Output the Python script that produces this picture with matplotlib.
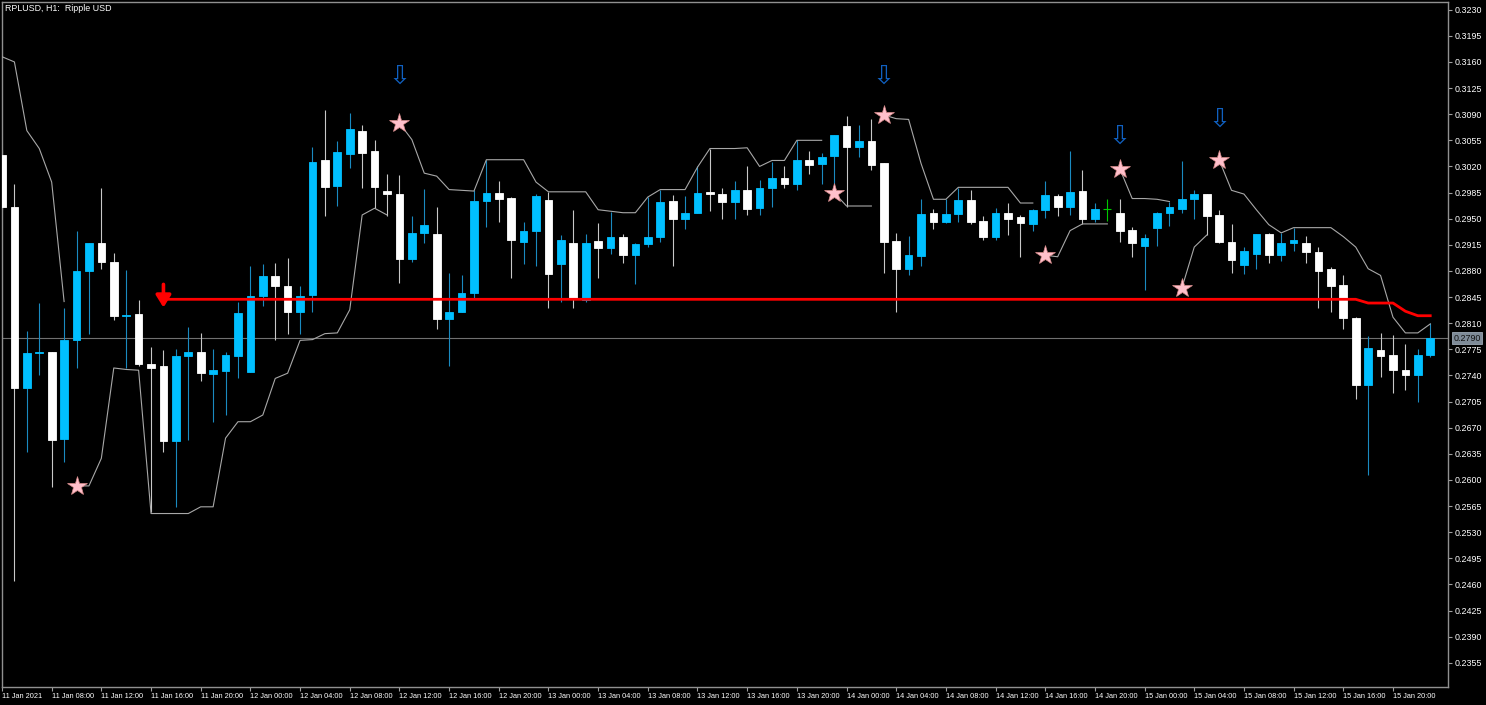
import matplotlib
matplotlib.use('Agg')
import matplotlib.pyplot as plt
from matplotlib.patches import Rectangle

# H1 bars, first bar = 11 Jan 2021 04:00
opens = [0.3035, 0.2965, 0.2723, 0.2770, 0.2772, 0.2655, 0.2787, 0.2880, 0.2918, 0.2892,
         0.2819, 0.2822, 0.2755, 0.2752, 0.2652, 0.2766, 0.2771, 0.2742, 0.2746, 0.2766,
         0.2744, 0.2846, 0.2873, 0.2860, 0.2825, 0.2848, 0.3028, 0.2994, 0.3037, 0.3067,
         0.3041, 0.2987, 0.2983, 0.2896, 0.2931, 0.2930, 0.2816, 0.2825, 0.2850, 0.2974,
         0.2984, 0.2978, 0.2919, 0.2933, 0.2975, 0.2889, 0.2918, 0.2841, 0.2920, 0.2911,
         0.2926, 0.2902, 0.2916, 0.2925, 0.2974, 0.2950, 0.2958, 0.2986, 0.2983, 0.2973,
         0.2989, 0.2964, 0.2991, 0.3005, 0.2997, 0.3028, 0.3023, 0.3034, 0.3074, 0.3046,
         0.3054, 0.3024, 0.2920, 0.2883, 0.2900, 0.2957, 0.2946, 0.2956, 0.2975, 0.2947,
         0.2926, 0.2957, 0.2952, 0.2943, 0.2962, 0.2981, 0.2966, 0.2987, 0.2950, 0.2963,
         0.2958, 0.2935, 0.2914, 0.2937, 0.2958, 0.2963, 0.2976, 0.2983, 0.2955, 0.2919,
         0.2888, 0.2903, 0.2929, 0.2901, 0.2917, 0.2918, 0.2905, 0.2882, 0.2861, 0.2817,
         0.2727, 0.2774, 0.2767, 0.2747, 0.2740, 0.2767]
highs = [0.3042, 0.2997, 0.2800, 0.2837, 0.2772, 0.2830, 0.2934, 0.2918, 0.2991, 0.2904,
         0.2881, 0.2841, 0.2778, 0.2774, 0.2776, 0.2805, 0.2797, 0.2776, 0.2772, 0.2839,
         0.2887, 0.2889, 0.2890, 0.2898, 0.2860, 0.3046, 0.3096, 0.3054, 0.3091, 0.3076,
         0.3056, 0.3010, 0.3008, 0.2953, 0.2990, 0.2965, 0.2877, 0.2875, 0.2988, 0.3029,
         0.3001, 0.2979, 0.2945, 0.2983, 0.2986, 0.2928, 0.2962, 0.2929, 0.2944, 0.2959,
         0.2930, 0.2917, 0.2979, 0.2989, 0.2982, 0.2980, 0.3020, 0.3044, 0.2991, 0.3001,
         0.3021, 0.3002, 0.3026, 0.3020, 0.3055, 0.3041, 0.3038, 0.3062, 0.3088, 0.3076,
         0.3084, 0.3024, 0.2931, 0.2927, 0.2976, 0.2963, 0.2976, 0.2991, 0.2988, 0.2953,
         0.2964, 0.2971, 0.2955, 0.2963, 0.3001, 0.2983, 0.3041, 0.3015, 0.2971, 0.2976,
         0.2977, 0.2939, 0.2930, 0.2959, 0.2973, 0.3027, 0.2988, 0.2983, 0.2962, 0.2943,
         0.2912, 0.2930, 0.2931, 0.2931, 0.2938, 0.2927, 0.2912, 0.2885, 0.2875, 0.2818,
         0.2793, 0.2797, 0.2794, 0.2782, 0.2776, 0.2810]
lows = [0.2962, 0.2464, 0.2638, 0.2741, 0.2591, 0.2624, 0.2750, 0.2795, 0.2883, 0.2814,
        0.2750, 0.2752, 0.2557, 0.2638, 0.2564, 0.2653, 0.2733, 0.2678, 0.2687, 0.2736,
        0.2744, 0.2833, 0.2787, 0.2796, 0.2796, 0.2825, 0.2954, 0.2967, 0.3018, 0.2991,
        0.2964, 0.2954, 0.2864, 0.2892, 0.2917, 0.2802, 0.2753, 0.2825, 0.2842, 0.2939,
        0.2946, 0.2870, 0.2889, 0.2886, 0.2831, 0.2839, 0.2830, 0.2839, 0.2870, 0.2903,
        0.2891, 0.2863, 0.2912, 0.2919, 0.2886, 0.2936, 0.2958, 0.2960, 0.2949, 0.2949,
        0.2955, 0.2955, 0.2965, 0.2991, 0.2989, 0.3010, 0.2996, 0.2986, 0.2966, 0.3033,
        0.3015, 0.2877, 0.2825, 0.2875, 0.2887, 0.2936, 0.2944, 0.2945, 0.2943, 0.2922,
        0.2922, 0.2928, 0.2899, 0.2934, 0.2951, 0.2953, 0.2955, 0.2943, 0.2946, 0.2947,
        0.2919, 0.2899, 0.2855, 0.2913, 0.2940, 0.2957, 0.2950, 0.2928, 0.2917, 0.2877,
        0.2876, 0.2882, 0.2891, 0.2893, 0.2907, 0.2890, 0.2830, 0.2825, 0.2802, 0.2708,
        0.2607, 0.2738, 0.2717, 0.2721, 0.2705, 0.2765]
closes = [0.2965, 0.2723, 0.2770, 0.2772, 0.2653, 0.2787, 0.2880, 0.2918, 0.2892, 0.2819,
          0.2821, 0.2755, 0.2750, 0.2652, 0.2766, 0.2771, 0.2743, 0.2747, 0.2767, 0.2824,
          0.2846, 0.2873, 0.2860, 0.2825, 0.2846, 0.3026, 0.2993, 0.3039, 0.3070, 0.3038,
          0.2993, 0.2983, 0.2896, 0.2931, 0.2941, 0.2815, 0.2825, 0.2850, 0.2974, 0.2984,
          0.2977, 0.2922, 0.2933, 0.2980, 0.2876, 0.2921, 0.2842, 0.2918, 0.2911, 0.2925,
          0.2902, 0.2916, 0.2925, 0.2973, 0.2950, 0.2958, 0.2985, 0.2983, 0.2973, 0.2989,
          0.2963, 0.2991, 0.3005, 0.2997, 0.3028, 0.3022, 0.3033, 0.3062, 0.3046, 0.3054,
          0.3022, 0.2919, 0.2883, 0.2901, 0.2956, 0.2946, 0.2956, 0.2975, 0.2946, 0.2925,
          0.2957, 0.2950, 0.2944, 0.2962, 0.2982, 0.2965, 0.2986, 0.2950, 0.2963, 0.2963,
          0.2934, 0.2918, 0.2924, 0.2957, 0.2965, 0.2976, 0.2983, 0.2954, 0.2919, 0.2895,
          0.2907, 0.2929, 0.2901, 0.2917, 0.2921, 0.2906, 0.2880, 0.2860, 0.2817, 0.2727,
          0.2777, 0.2766, 0.2747, 0.2740, 0.2767, 0.2790]

# trailing stop line (grey), breaks at each flip bar
trail = [0.3167, 0.3160, 0.3068, 0.3044, 0.2999, 0.2839,
         0.2592, 0.2592, 0.2629, 0.2750, 0.2748, 0.2747, 0.2555, 0.2555, 0.2555, 0.2555,
         0.2564, 0.2564, 0.2656, 0.2678, 0.2678, 0.2687, 0.2736, 0.2743, 0.2787, 0.2788,
         0.2796, 0.2797, 0.2828, 0.2955, 0.2964, 0.2955,
         0.3078, 0.3056, 0.3011, 0.3007, 0.2989, 0.2988, 0.2987, 0.3029, 0.3029, 0.3029,
         0.3029, 0.2999, 0.2986, 0.2986, 0.2986, 0.2986, 0.2962, 0.2960, 0.2958, 0.2958,
         0.2979, 0.2989, 0.2989, 0.2989, 0.3019, 0.3044, 0.3044, 0.3044, 0.3045, 0.3020,
         0.3028, 0.3028, 0.3055, 0.3055, 0.3055,
         0.2985, 0.2967, 0.2967, 0.2967,
         0.3089, 0.3084, 0.3083, 0.3024, 0.2976, 0.2976, 0.2992, 0.2992, 0.2992, 0.2992,
         0.2992, 0.2971, 0.2971,
         0.2901, 0.2899, 0.2934, 0.2943, 0.2943, 0.2943,
         0.3017, 0.2977, 0.2977, 0.2976, 0.2973,
         0.2857, 0.2912, 0.2928,
         0.3029, 0.2988, 0.2983, 0.2962, 0.2942, 0.2931, 0.2938, 0.2938, 0.2938, 0.2938,
         0.2926, 0.2912, 0.2883, 0.2874, 0.2818, 0.2797, 0.2797, 0.2809]
flip_bars = [6, 32, 67, 71, 84, 90, 95, 98]

# blue down-arrow signals (bar, price)
signal_bars = [32, 71, 90, 98]
signal_prices = [0.3140, 0.3140, 0.3060, 0.3082]

# red level, starting at bar 13
level_start = 13
level = [0.2842] * 97 + [0.2837, 0.2837, 0.2837, 0.2826, 0.2820, 0.2820]
arrow_bar = 13
arrow_top, arrow_tip = 0.2862, 0.2831

bid = 0.2790
price_ticks = [0.2355, 0.2390, 0.2425, 0.2460, 0.2495, 0.2530, 0.2565, 0.2600, 0.2635,
               0.2670, 0.2705, 0.2740, 0.2775, 0.2810, 0.2845, 0.2880, 0.2915, 0.2950,
               0.2985, 0.3020, 0.3055, 0.3090, 0.3125, 0.3160, 0.3195, 0.3230]
time_bars = list(range(0, 113, 4))
time_labels = ['11 Jan 2021', '11 Jan 08:00', '11 Jan 12:00', '11 Jan 16:00', '11 Jan 20:00',
               '12 Jan 00:00', '12 Jan 04:00', '12 Jan 08:00', '12 Jan 12:00', '12 Jan 16:00',
               '12 Jan 20:00', '13 Jan 00:00', '13 Jan 04:00', '13 Jan 08:00', '13 Jan 12:00',
               '13 Jan 16:00', '13 Jan 20:00', '14 Jan 00:00', '14 Jan 04:00', '14 Jan 08:00',
               '14 Jan 12:00', '14 Jan 16:00', '14 Jan 20:00', '15 Jan 00:00', '15 Jan 04:00',
               '15 Jan 08:00', '15 Jan 12:00', '15 Jan 16:00', '15 Jan 20:00']

plt.rcParams['font.family'] = ['Liberation Sans', 'DejaVu Sans']

fig = plt.figure(figsize=(14.86, 7.05), dpi=100, facecolor='black')
ax = fig.add_axes([2 / 1486, 18 / 705, 1446 / 1486, 685 / 705])
ax.set_facecolor('black')
ax.set_xlim(0.0, 116.43)
ax.set_ylim(0.23226, 0.32403)

# bid line
ax.axhline(bid, color='#707070', lw=0.8, zorder=1)

# candles
for i in range(len(opens)):
    o, h, l, c = opens[i], highs[i], lows[i], closes[i]
    if o == c:
        ax.vlines(i, l, h, color='#00C800', lw=0.8, zorder=3)
        ax.hlines(c, i - 0.33, i + 0.33, color='#00C800', lw=0.8, zorder=3)
        continue
    bull = c > o
    wick = '#1A8AC0' if bull else '#C8C8C8'
    body = '#00BFFF' if bull else '#FFFFFF'
    ax.vlines(i, l, h, color=wick, lw=0.8, zorder=2)
    ax.add_patch(Rectangle((i - 0.31, min(o, c)), 0.62, abs(c - o),
                           facecolor=body, edgecolor=body, lw=0.6, zorder=3))

# trailing line segments
cuts = [0] + flip_bars + [len(trail)]
for a, b in zip(cuts[:-1], cuts[1:]):
    ax.plot(range(a, b), trail[a:b], color='#A8A8A8', lw=0.8, zorder=4)

# red level
ax.plot(range(level_start, level_start + len(level)), level, color='#FF0000', lw=2, zorder=5)
ax.annotate('', xy=(arrow_bar, arrow_tip), xytext=(arrow_bar, arrow_top),
            arrowprops=dict(arrowstyle='-|>,head_width=0.28,head_length=0.45', color='#FF0000',
                            lw=2.6, mutation_scale=16, shrinkA=0, shrinkB=0), zorder=6)

# stars at flips
ax.plot(flip_bars, [trail[k] for k in flip_bars], ls='none', marker='*', ms=15,
        mfc='#FFC0CB', mec='#D88A8A', mew=0.5, zorder=7)

# blue hollow arrows
for k, p in zip(signal_bars, signal_prices):
    ax.text(k, p, '\u21e9', ha='center', va='center', color='#1060C0',
            fontsize=19, family='DejaVu Sans', zorder=7)

# axes styling
for s in ax.spines.values():
    s.set_color('#909090')
    s.set_linewidth(1)

ax.yaxis.tick_right()
ax.set_yticks(price_ticks)
ax.set_yticklabels(['%.4f' % p for p in price_ticks])
ax.tick_params(axis='y', colors='#A0A0A0', labelcolor='white', length=3, width=0.8,
               labelsize=6.4, pad=2)
ax.set_xticks(time_bars)
ax.set_xticklabels(time_labels)
ax.tick_params(axis='x', colors='#A0A0A0', labelcolor='white', length=3, width=0.8,
               labelsize=5.3, pad=1.5)
plt.setp(ax.get_xticklabels(), ha='left')

ax.annotate('%.4f' % bid, xy=(1.0, bid), xycoords=('axes fraction', 'data'),
            xytext=(4, 0), textcoords='offset points', ha='left', va='center',
            fontsize=6.4, color='#101010',
            bbox=dict(boxstyle='square,pad=0.15', fc='#7E8B98', ec='#9AA6B2', lw=0.6))

ax.text(0.002, 0.997, 'RPLUSD, H1:  Ripple USD', transform=ax.transAxes,
        ha='left', va='top', color='white', fontsize=6.4)

fig.savefig('out.png', dpi=100, facecolor='black')
